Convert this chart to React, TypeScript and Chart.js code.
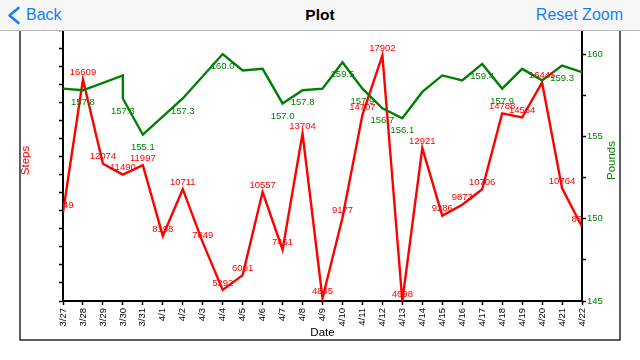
import React, { useEffect, useRef } from "react";
import { Chart, registerables } from "chart.js";

Chart.register(...registerables);

const FONT = "'Liberation Sans', Arial, Helvetica, sans-serif";
const RED = "#ff0000";
const GREEN = "#008000";
const BLUE = "#157efb";

// Categories (one per day)
const dates = [
  "3/27", "3/28", "3/29", "3/30", "3/31",
  "4/1", "4/2", "4/3", "4/4", "4/5", "4/6", "4/7", "4/8", "4/9", "4/10",
  "4/11", "4/12", "4/13", "4/14", "4/15", "4/16", "4/17", "4/18", "4/19",
  "4/20", "4/21", "4/22",
];

// Steps per day
const steps = [
  9449, 16609, 12074, 11490, 11997,
  8198, 10711, 7849, 5292, 6091, 10557, 7461, 13704, 4845, 9177,
  14707, 17902, 4698, 12921, 9286, 9873, 10706, 14788, 14564,
  16445, 10764, 8690,
];

// Weigh-ins: day index (into dates) and pounds
const poundsDay = [0, 1, 3, 3, 4, 6, 8, 9, 10, 11, 12, 13, 14, 15, 16, 17, 18, 19, 20, 21, 22, 23, 24, 25, 26];
const poundsVal = [
  157.9, 157.8, 158.7, 157.3, 155.1, 157.3, 160.0, 159.0, 159.1, 157.0, 157.8, 157.9, 159.5,
  157.9, 156.7, 156.1, 157.7, 158.7, 158.4, 159.4, 157.9, 159.1, 158.4, 159.3, 158.9,
];
// Which weigh-ins carry a visible value label
const poundsLabeled = [
  false, true, false, true, true, true, true, false, false, true, true, false, true,
  true, true, true, false, false, false, true, true, false, false, true, false,
];

// Axis ranges / ticks
const stepsMin = 4698;
const stepsMax = 19268;
const stepsMinorStep = 1000;
const stepsMajorStep = 5000;
const poundsMin = 145;
const poundsMax = 161.46;
const poundsMinorStep = 2.5;
const poundsMajorStep = 5;

export default function App() {
  const canvasRef = useRef<HTMLCanvasElement | null>(null);

  useEffect(() => {
    const canvas = canvasRef.current;
    if (!canvas) return;

    const framePlugin = {
      id: "frame",
      beforeDraw(chart: any) {
        const ctx = chart.ctx;
        ctx.save();
        ctx.fillStyle = "#ffffff";
        ctx.fillRect(0, 0, chart.width, chart.height);
        ctx.strokeStyle = "#2a2a2a";
        ctx.lineWidth = 1.5;
        ctx.beginPath();
        ctx.moveTo(20, 0);
        ctx.lineTo(20, 340);
        ctx.lineTo(620, 340);
        ctx.lineTo(620, 0);
        ctx.stroke();
        ctx.restore();
      },
      afterDraw(chart: any) {
        const ctx = chart.ctx;
        const a = chart.chartArea;
        const midY = (a.top + a.bottom) / 2 - 5;
        ctx.save();
        ctx.font = `11.5px ${FONT}`;
        ctx.textAlign = "center";
        ctx.textBaseline = "middle";
        ctx.fillStyle = RED;
        ctx.translate(26, midY);
        ctx.rotate(-Math.PI / 2);
        ctx.fillText("Steps", 0, 0);
        ctx.restore();
        ctx.save();
        ctx.font = `11.5px ${FONT}`;
        ctx.textAlign = "center";
        ctx.textBaseline = "middle";
        ctx.fillStyle = GREEN;
        ctx.translate(612, midY);
        ctx.rotate(-Math.PI / 2);
        ctx.fillText("Pounds", 0, 0);
        ctx.restore();
      },
    };

    const labelPlugin = {
      id: "valueLabels",
      afterDatasetsDraw(chart: any) {
        const ctx = chart.ctx;
        const a = chart.chartArea;
        ctx.save();
        ctx.beginPath();
        ctx.rect(a.left, a.top, a.right - a.left, a.bottom - a.top);
        ctx.clip();
        ctx.font = `9.5px ${FONT}`;
        ctx.textAlign = "center";
        ctx.textBaseline = "middle";
        const stepsMeta = chart.getDatasetMeta(1);
        ctx.fillStyle = RED;
        stepsMeta.data.forEach((pt: any, i: number) => {
          ctx.fillText(String(steps[i]), pt.x, pt.y - 7);
        });
        const poundsMeta = chart.getDatasetMeta(0);
        ctx.fillStyle = GREEN;
        poundsMeta.data.forEach((pt: any, i: number) => {
          if (poundsLabeled[i]) ctx.fillText(poundsVal[i].toFixed(1), pt.x, pt.y + 12.5);
        });
        ctx.restore();
      },
    };

    const tickFont = { family: FONT, size: 9.5 };

    const chart = new Chart(canvas, {
      type: "line",
      data: {
        datasets: [
          {
            label: "Pounds",
            data: poundsDay.map((d, i) => ({ x: d, y: poundsVal[i] })),
            borderColor: GREEN,
            borderWidth: 2.4,
            pointRadius: 0,
            tension: 0,
            yAxisID: "y2",
            xAxisID: "x",
          },
          {
            label: "Steps",
            data: steps.map((v, i) => ({ x: i, y: v })),
            borderColor: RED,
            borderWidth: 2.4,
            pointRadius: 0,
            tension: 0,
            yAxisID: "y",
            xAxisID: "x",
          },
        ],
      },
      options: {
        responsive: false,
        animation: false,
        events: [],
        layout: { padding: { top: 30, left: 0, right: 0, bottom: 0 } },
        plugins: {
          legend: { display: false },
          tooltip: { enabled: false },
        },
        scales: {
          x: {
            type: "linear",
            position: "bottom",
            min: 0,
            max: dates.length - 1,
            afterFit: (s: any) => {
              s.height = 59;
            },
            border: { display: true, color: "#000", width: 2 },
            grid: { drawOnChartArea: false, drawTicks: true, tickLength: 4, color: "#000", tickWidth: 1.5 },
            ticks: {
              stepSize: 1,
              autoSkip: false,
              maxTicksLimit: 60,
              minRotation: 90,
              maxRotation: 90,
              padding: 3,
              color: "#000",
              font: tickFont,
              callback: (v: any) => dates[Math.round(Number(v))] ?? "",
            },
            title: {
              display: true,
              text: "Date",
              color: "#000",
              font: { family: FONT, size: 11.5 },
              padding: { top: 0, bottom: 20 },
            },
          },
          y: {
            type: "linear",
            position: "left",
            min: stepsMin,
            max: stepsMax,
            afterFit: (s: any) => {
              s.width = 63;
            },
            border: { display: true, color: "#000", width: 2 },
            grid: { drawOnChartArea: false, drawTicks: true, tickLength: 4, color: "#000", tickWidth: 1.5 },
            ticks: {
              stepSize: stepsMinorStep,
              includeBounds: false,
              autoSkip: false,
              maxTicksLimit: 60,
              padding: 0,
              color: RED,
              font: tickFont,
              callback: (v: any) => (Number(v) % stepsMajorStep === 0 ? String(v) : ""),
            },
          },
          y2: {
            type: "linear",
            position: "right",
            min: poundsMin,
            max: poundsMax,
            afterFit: (s: any) => {
              s.width = 58;
            },
            border: { display: true, color: "#000", width: 2 },
            grid: { drawOnChartArea: false, drawTicks: true, tickLength: 4, color: "#000", tickWidth: 1.5 },
            ticks: {
              stepSize: poundsMinorStep,
              includeBounds: false,
              autoSkip: false,
              maxTicksLimit: 60,
              padding: 1,
              color: GREEN,
              font: tickFont,
              callback: (v: any) => (Number(v) % poundsMajorStep === 0 ? String(v) : ""),
            },
          },
        },
      } as any,
      plugins: [framePlugin, labelPlugin],
    });

    return () => chart.destroy();
  }, []);

  return (
    <div
      style={{
        position: "fixed",
        left: 0,
        top: 0,
        width: 640,
        height: 360,
        background: "#fff",
        overflow: "hidden",
        fontFamily: FONT,
      }}
    >
      <canvas
        ref={canvasRef}
        width={640}
        height={360}
        style={{ position: "absolute", left: 0, top: 0, width: 640, height: 360 }}
      />
      <div
        style={{
          position: "absolute",
          left: 0,
          top: 0,
          width: 640,
          height: 30,
          background: "#f7f7f7",
          borderBottom: "1px solid #b9b9bb",
        }}
      >
        <svg width={24} height={30} style={{ position: "absolute", left: 0, top: 0 }}>
          <polyline
            points="18.5,8 9.5,15.5 18.5,23"
            fill="none"
            stroke={BLUE}
            strokeWidth={2.6}
            strokeLinecap="round"
            strokeLinejoin="round"
          />
        </svg>
        <span
          style={{
            position: "absolute",
            left: 26,
            top: 0,
            lineHeight: "30px",
            fontSize: 16,
            color: BLUE,
          }}
        >
          Back
        </span>
        <span
          style={{
            position: "absolute",
            left: 0,
            width: 640,
            top: 0,
            lineHeight: "30px",
            fontSize: 15.5,
            fontWeight: "bold",
            color: "#000",
            textAlign: "center",
          }}
        >
          Plot
        </span>
        <span
          style={{
            position: "absolute",
            right: 17,
            top: 0,
            lineHeight: "30px",
            fontSize: 16,
            color: BLUE,
          }}
        >
          Reset Zoom
        </span>
      </div>
    </div>
  );
}
